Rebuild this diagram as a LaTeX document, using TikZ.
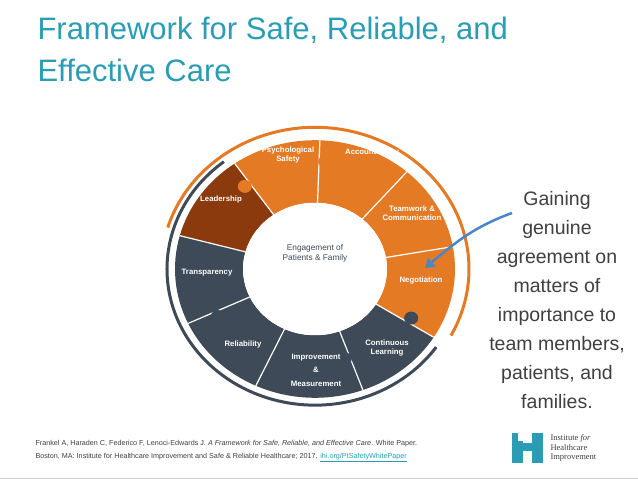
\documentclass[tikz,border=0pt]{standalone}
\usepackage{fontspec}
\setmainfont{Liberation Sans}
\newfontfamily\serifx{Liberation Serif}
\usetikzlibrary{calc,arrows.meta}
\definecolor{teal}{HTML}{2A9DB5}
\definecolor{org}{HTML}{E57A25}
\definecolor{brn}{HTML}{8A3A0C}
\definecolor{slate}{HTML}{3E4A57}
\definecolor{txt}{HTML}{404040}
\definecolor{arr}{HTML}{4A86C5}
\tikzset{lab/.style={text=white,font=\fontsize{7.8}{9.5}\selectfont\bfseries,align=center},
knob/.style={line width=1pt,draw=white}}
\newcommand{\seg}[3]{\fill[#3] (#1:72) arc[start angle=#1,end angle=#2,radius=72] -- (#2:140) arc[start angle=#2,end angle=#1,radius=140] -- cycle;}
\begin{document}
\begin{tikzpicture}[x=1pt,y=1pt]
\useasboundingbox (0,0) rectangle (638,479);
\fill[white] (0,0) rectangle (638,479);
\node[anchor=west,text=teal,font=\fontsize{31}{42}\selectfont,align=left] (title) at (34,430) {Framework for Safe, Reliable, and\\Effective Care};
\begin{scope}[shift={(315,210)},yscale=0.92]
\coordinate (C) at (0,0);
\draw[org,line width=3pt] (163:154) arc[start angle=163,end angle=-28,radius=154];
\draw[slate,line width=3pt] (128:148) arc[start angle=128,end angle=325,radius=148];
\seg{88}{125}{org}
\seg{125}{165}{brn}
\seg{165}{205}{slate}
\seg{205}{245}{slate}
\seg{245}{290}{slate}
\seg{290}{328}{slate}
\seg{328}{370}{org}
\seg{10}{49}{org}
\seg{49}{88}{org}
\foreach \a in {88,125,165,205,245,290,328,10,49}
  \draw[white,line width=1.2pt] (\a:72) -- (\a:140);
\filldraw[knob,org] (128:114) circle (6.5);
\filldraw[knob,org] (85:117) circle (6.5);
\filldraw[knob,org] (53:113) circle (6.5);
\filldraw[knob,org] (6:113) circle (6.5);
\filldraw[knob,brn] (161:113) circle (6.5);
\filldraw[knob,slate] (-29:110) circle (6.5);
\filldraw[knob,slate] (208:110) circle (6.5);
\filldraw[knob,slate] (-73:102) circle (6.5);
\filldraw[knob,slate] (250:104) circle (6.5);
\fill[white] (C) circle (72);
\end{scope}
\node[lab] (ps) at (288,324) {Psychological\\Safety};
\node[lab] (ac) at (372,327) {Accountability};
\node[lab] (le) at (221,280) {Leadership};
\node[lab] (tw) at (412,266) {Teamwork \&\\Communication};
\node[lab] (ne) at (421,198) {Negotiation};
\node[lab] (tr) at (207,206) {Transparency};
\node[lab] (re) at (243,135) {Reliability};
\node[lab,align=center] (im) at (316,109) {Improvement\\[4pt]\&\\[4pt]Measurement};
\node[lab] (co) at (387,131) {Continuous\\Learning};
\node[lab,text=slate,font=\fontsize{8.3}{10}\selectfont] (ce) at (315,226) {Engagement of\\Patients \& Family};
\node[text=txt,font=\fontsize{19.5}{29}\selectfont,align=center] (gain) at (557,179) {Gaining\\genuine\\agreement on\\matters of\\importance to\\team members,\\patients, and\\families.};
\coordinate (tip) at (425,211);
\draw[arr,line width=2.5pt,-{Triangle[length=9pt,width=11pt]}] (512,266) to[out=200,in=40] (tip);
\node[anchor=west,text=txt,font=\fontsize{7.2}{12.5}\selectfont,align=left] (ref) at (32,28) {Frankel A, Haraden C, Federico F, Lenoci-Edwards J. \textit{A Framework for Safe, Reliable, and Effective Care}. White Paper.\\Boston, MA: Institute for Healthcare Improvement and Safe \& Reliable Healthcare; 2017. \textcolor{teal}{\underline{ihi.org/PtSafetyWhitePaper}}};
\fill[teal] (512,46) rectangle (523,16);
\fill[teal] (532,46) rectangle (543,16);
\fill[teal] (512,36) rectangle (543,28);
\fill[white] (518,46) rectangle (523,38);
\node[anchor=west,text=txt,font=\serifx\fontsize{8.5}{9.5}\selectfont,align=left] (logo) at (547,31) {Institute \textit{for}\\Healthcare\\Improvement};
\draw[gray!40,line width=0.8pt] (0,1) -- (638,1);
\end{tikzpicture}
\end{document}
